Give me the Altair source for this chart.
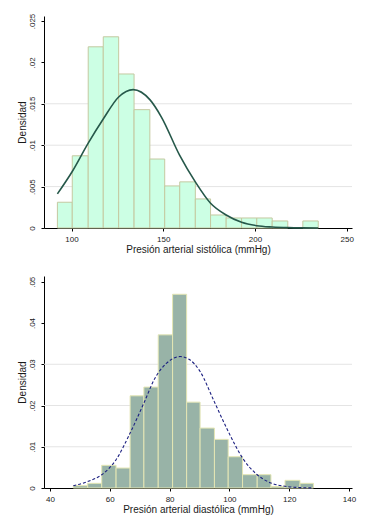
import altair as alt
import pandas as pd

# ---------------- data ----------------
# Top panel: systolic blood pressure histogram (density)
sys_edges = [92.3, 100.4, 109.1, 117.3, 125.7, 134.1, 142.7, 150.8, 159.0,
             167.5, 175.8, 184.3, 192.7, 201.0, 209.4, 217.9, 226.1, 234.5]
sys_density = [0.00311, 0.00872, 0.02188, 0.02309, 0.01860, 0.01429, 0.00833,
               0.00508, 0.00557, 0.00351, 0.00157, 0.00121, 0.00121, 0.00121,
               0.00085, 0.0, 0.00085]
sys_curve_x = [92.3, 100.4, 109.1, 117.3, 125.7, 133.6, 142.7, 149.0, 158.9,
               167.4, 175.8, 184.3, 192.7, 201.0, 209.4, 218.0, 226.0, 234.5]
sys_curve_y = [0.00412, 0.00682, 0.01025, 0.01316, 0.01582, 0.01671, 0.01550,
               0.01340, 0.00880, 0.00560, 0.00299, 0.00157, 0.00069, 0.00028,
               0.00012, 0.00004, 0.00001, 0.0]
sys_grid = [0.005, 0.01, 0.015]
sys_xticks = [100, 150, 200, 250]
sys_yticks = [0, 0.005, 0.01, 0.015, 0.02, 0.025]

# Bottom panel: diastolic blood pressure histogram (density)
dia_edges = [47.8, 52.6, 57.3, 62.1, 66.8, 71.4, 76.2, 81.0, 85.7, 90.2,
             95.0, 99.6, 104.4, 109.3, 113.9, 118.6, 123.6, 128.1]
dia_density = [0.00056, 0.00113, 0.00550, 0.00484, 0.02235, 0.02446, 0.03713,
               0.04697, 0.02082, 0.01453, 0.01179, 0.00758, 0.00323, 0.00323,
               0.00035, 0.00186, 0.00113]
dia_curve_x = [47.8, 52.8, 57.3, 62.1, 66.8, 71.4, 75.1, 79.0, 83.5, 86.5,
               90.2, 94.9, 99.6, 104.4, 109.3, 113.9, 118.6, 123.6, 128.1]
dia_curve_y = [0.00056, 0.00162, 0.00320, 0.00686, 0.01332, 0.02058, 0.02663,
               0.03027, 0.03188, 0.03120, 0.02825, 0.02100, 0.01373, 0.00726,
               0.00322, 0.00121, 0.00041, 0.00010, 0.00002]
dia_grid = [0.01, 0.02, 0.03]
dia_xticks = [40, 60, 80, 100, 120, 140]
dia_yticks = [0, 0.01, 0.02, 0.03, 0.04, 0.05]

W, H = 308, 212


def bars_df(edges, dens):
    rows = []
    for i, d in enumerate(dens):
        if d > 0:
            rows.append({"x0": edges[i], "x1": edges[i + 1], "d": d})
    return pd.DataFrame(rows)


def panel(edges, dens, cx, cy, grid, xdom, ydom, xticks, yticks, xtitle,
          fill, stroke, line_color, dash):
    xs = alt.Scale(domain=xdom, nice=False, zero=False)
    ys = alt.Scale(domain=ydom, nice=False, zero=True)
    xaxis = alt.Axis(values=xticks, title=xtitle, grid=False, tickSize=3,
                     labelPadding=4, titlePadding=0, format="d",
                     minExtent=16, maxExtent=16)
    yaxis = alt.Axis(values=yticks, title="Densidad", grid=False, tickSize=3,
                     labelPadding=5, labelAngle=270, labelAlign="center",
                     labelBaseline="bottom",
                     labelExpr="replace(toString(datum.value), /^0\\./, '.')",
                     minExtent=16, maxExtent=16, titlePadding=1)

    gdf = pd.DataFrame({"g": grid})
    bdf = bars_df(edges, dens)
    cdf = pd.DataFrame({"x": cx, "y": cy})

    g = alt.Chart(gdf).mark_rule(color="#e4e4e4", strokeWidth=1).encode(
        y=alt.Y("g:Q", scale=ys, axis=yaxis)
    )
    b = alt.Chart(bdf).mark_rect(fill=fill, stroke=stroke, strokeWidth=1,
                                 opacity=1).encode(
        x=alt.X("x0:Q", scale=xs, axis=xaxis),
        x2="x1:Q",
        y=alt.Y("d:Q", scale=ys, axis=yaxis),
        y2=alt.datum(0),
    )
    line_kwargs = dict(color=line_color, strokeWidth=1.6 if not dash else 1.1,
                       interpolate="monotone")
    if dash:
        line_kwargs["strokeDash"] = [3, 2]
    l = alt.Chart(cdf).mark_line(**line_kwargs).encode(
        x=alt.X("x:Q", scale=xs, axis=xaxis),
        y=alt.Y("y:Q", scale=ys, axis=yaxis),
    )
    return alt.layer(g, b, l).properties(width=W, height=H)


top = panel(sys_edges, sys_density, sys_curve_x, sys_curve_y, sys_grid,
            [85.0, 252.9], [0, 0.0256], sys_xticks, sys_yticks,
            "Presión arterial sistólica (mmHg)",
            "#ccffe4", "#c4c9a0", "#26584a", False)
bottom = panel(dia_edges, dia_density, dia_curve_x, dia_curve_y, dia_grid,
               [38.0, 141.0], [0, 0.0514], dia_xticks, dia_yticks,
               "Presión arterial diastólica (mmHg)",
               "#98b3a7", "#e4e6b4", "#1b1f80", True)

chart = alt.vconcat(top, bottom, spacing=48, bounds="flush").properties(
    padding={"left": 9, "top": 5, "right": 5, "bottom": 5},
    background="white",
).configure_view(stroke=None).configure_axis(
    domainColor="#000000", tickColor="#000000", domainWidth=1, tickWidth=1,
    labelFont="Liberation Sans", titleFont="Liberation Sans",
    labelFontSize=8, titleFontSize=10, titleFontWeight="normal",
    labelColor="#1a1a1a", titleColor="#1a1a1a",
)

chart.save("out.html", embed_options={"renderer": "svg", "actions": False})
